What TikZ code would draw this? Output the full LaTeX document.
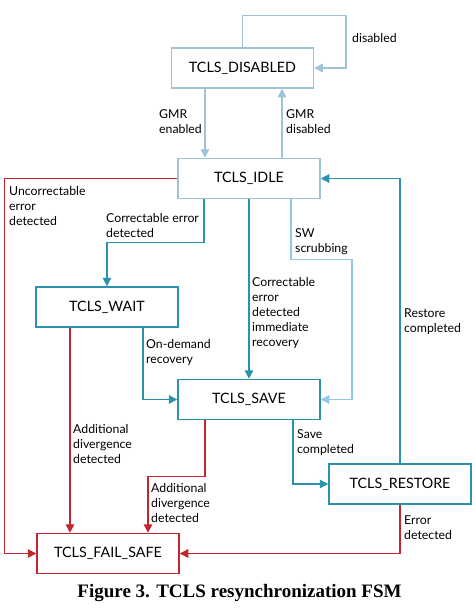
\documentclass[tikz,border=0pt]{standalone}
\usepackage{fontspec}
\setmainfont{Lato}
\newfontfamily\capfont{Liberation Serif}
\usetikzlibrary{arrows.meta}
\definecolor{palebox}{HTML}{9CC4D6}
\definecolor{tealbox}{HTML}{2A92AD}
\definecolor{redbox}{HTML}{C4242C}
\definecolor{skyline}{HTML}{92C6EA}

\begin{document}
\begin{tikzpicture}[
    x=1pt, y=-1pt,
    state/.style={rectangle, draw, line width=1.5pt, fill=white, minimum height=40pt, minimum width=142pt, font=\fontsize{14.3}{16}\selectfont},
    idlestate/.style={state, draw=palebox},
    busystate/.style={state, draw=tealbox},
    failstate/.style={state, draw=redbox},
    pale/.style={-{Triangle[length=8.5pt,width=8.5pt]}, line width=1.4pt, draw=palebox},
    tealarrow/.style={-{Triangle[length=8.5pt,width=8.5pt]}, line width=1.4pt, draw=tealbox},
    sky/.style={-{Triangle[length=8.5pt,width=8.5pt]}, line width=1.4pt, draw=skyline},
    redarrow/.style={-{Triangle[length=8.5pt,width=8.5pt]}, line width=1.4pt, draw=redbox},
    lbl/.style={inner sep=0pt, align=left, font=\fontsize{12.3}{15}\selectfont},
]
    \useasboundingbox (0,0) rectangle (474,610);

    % States
    \node[idlestate] (disabled) at (242.5, 68) {TCLS\_DISABLED};
    \node[idlestate] (idle) at (249, 178.5) {TCLS\_IDLE};
    \node[busystate] (wait) at (107, 307) {TCLS\_WAIT};
    \node[busystate] (save) at (249, 399.5) {TCLS\_SAVE};
    \node[busystate] (restore) at (400, 484) {TCLS\_RESTORE};
    \node[failstate] (failsafe) at (108, 553.5) {TCLS\_FAIL\_SAFE};

    % Disabled / idle
    \draw[pale] (disabled.north) |- ++(103.5,-32) |- (disabled.east);
    \node[lbl, anchor=west] (lbldis) at (352, 38) {disabled};
    \draw[pale] ([xshift=-37.5pt]disabled.south) -- ([xshift=-37.5pt]disabled.south |- idle.north);
    \node[lbl, anchor=east] (lblen) at (202, 121.5) {GMR\\enabled};
    \draw[pale] ([xshift=33pt]idle.north) -- ([xshift=33pt]idle.north |- disabled.south);
    \node[lbl, anchor=west] (lbldisab) at (286, 121.5) {GMR\\disabled};

    % Recovery path
    \draw[tealarrow] ([xshift=-45pt]idle.south) -- ++(0,43.5) -| (wait.north);
    \node[lbl, anchor=west] (lblcorr) at (106, 226) {Correctable error\\detected};
    \draw[tealarrow] (idle.south) -- (save.north);
    \node[lbl, anchor=west] (lblimm) at (252, 313) {Correctable\\error\\detected\\immediate\\recovery};
    \draw[sky] ([xshift=42pt]idle.south) |- ++(61,60.5) |- (save.east);
    \node[lbl, anchor=west] (lblsw) at (295, 242) {SW\\scrubbing};
    \draw[tealarrow] ([xshift=36pt]wait.south) |- (save.west);
    \node[lbl, anchor=west] (lblond) at (146, 353) {On-demand\\recovery};
    \draw[tealarrow] ([xshift=44pt]save.south) |- (restore.west);
    \node[lbl, anchor=west] (lblsave) at (297, 443) {Save\\completed};
    \draw[tealarrow] (restore.north) |- (idle.east);
    \node[lbl, anchor=west] (lblrest) at (404, 321.5) {Restore\\completed};

    % Fail safe
    \draw[redarrow] (idle.west) -- ++(-173,0) |- (failsafe.west);
    \node[lbl, anchor=west] (lblunc) at (9, 206) {Uncorrectable\\error\\detected};
    \draw[redarrow] ([xshift=-37pt]wait.south) -- ([xshift=-37pt]wait.south |- failsafe.north);
    \node[lbl, anchor=west] (lbladd) at (73, 444) {Additional\\divergence\\detected};
    \draw[redarrow] ([xshift=-44pt]save.south) -- ++(0,56.5) -| ([xshift=40pt]failsafe.north);
    \node[lbl, anchor=west] (lbladdb) at (151, 503) {Additional\\divergence\\detected};
    \draw[redarrow] (restore.south) |- (failsafe.east);
    \node[lbl, anchor=west] (lblerr) at (404, 527.5) {Error\\detected};

    % Caption
    \node[font=\capfont\bfseries\fontsize{19}{22}\selectfont] (caption) at (239.5, 593) {Figure 3. TCLS resynchronization FSM};
\end{tikzpicture}
\end{document}
